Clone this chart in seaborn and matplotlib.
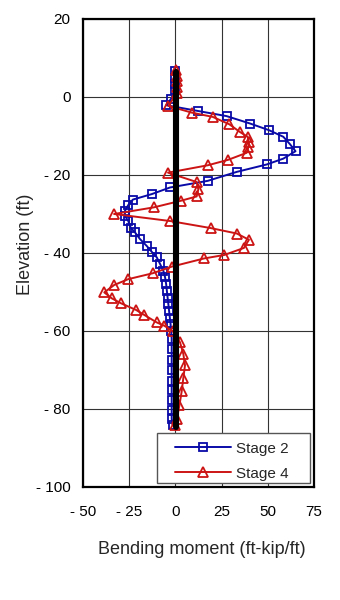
import numpy as np
import pandas as pd
import matplotlib
matplotlib.use("Agg")
import matplotlib.pyplot as plt
from matplotlib.patches import Rectangle
import seaborn as sns

# ---------------- data ----------------
stage2_moment = [0, 0, 0, 0, -2.5, -5.0, 12.4, 27.7, 40.4, 50.6, 58.4, 62.0, 65.0,
                 58.4, 49.4, 33.2, 17.5, -2.9, -12.8, -23.0, -25.5, -27.3, -27.3,
                 -25.5, -24.2, -21.9, -19.2, -15.5, -12.8, -10.1, -8.3, -6.5, -5.6,
                 -5.0, -4.6, -4.2, -3.8, -3.4, -3.0, -2.6, -2.3, -2.0, -2.0, -2.0,
                 -2.0, -2.0, -2.0, -2.0, -2.0, -2.0, -1.5]
stage2_elev = [6.6, 5.0, 3.4, 1.8, -0.6, -2.1, -3.6, -4.9, -6.8, -8.5, -10.2, -12.1,
               -13.9, -15.8, -17.3, -19.2, -21.5, -23.2, -24.9, -26.3, -27.7, -29.2,
               -30.5, -31.8, -33.5, -34.7, -36.4, -38.2, -39.7, -41.1, -42.8, -44.6,
               -46.2, -48.0, -49.8, -51.5, -53.2, -54.9, -56.6, -58.3, -60.0, -62.0,
               -64.6, -67.5, -70.1, -72.7, -75.2, -77.8, -80.3, -82.5, -84.0]

stage4_moment = [0.5, 0.8, 0.8, 0.8, 0.8, -3.8, 8.8, 20.2, 29.2, 35.0, 39.1, 39.8,
                 39.5, 38.6, 28.6, 17.6, -4.0, 11.5, 12.4, 11.5, 3.0, -11.7, -33.2,
                 -2.9, 19.0, 33.2, 39.8, 37.1, 26.5, 15.5, -2.0, -12.3, -25.5, -33.1,
                 -38.5, -34.5, -29.4, -21.3, -16.8, -10.1, -6.2, -1.5, 2.5, 4.3, 5.2,
                 4.3, 3.4, 2.2, 0.8, 0.0]
stage4_elev = [7.0, 5.5, 4.0, 2.5, 1.0, -2.3, -4.0, -5.1, -7.0, -9.0, -10.2, -11.6,
               -12.8, -14.3, -16.1, -17.5, -19.4, -21.8, -23.7, -25.5, -26.6, -28.3,
               -30.0, -31.8, -33.6, -35.0, -36.6, -38.7, -40.5, -41.4, -43.5, -45.2,
               -46.7, -48.2, -50.1, -51.6, -52.9, -54.6, -55.9, -57.8, -58.6, -60.0,
               -62.9, -65.9, -68.8, -72.0, -75.5, -79.0, -82.5, -84.0]

pile_moment = [0.5, 0.5]
pile_elev = [6.5, -84.5]

series_labels = ["Stage 2", "Stage 4"]
xticks = [-50, -25, 0, 25, 50, 75]
xtick_labels = ["- 50", "- 25", "0", "25", "50", "75"]
yticks = [20, 0, -20, -40, -60, -80, -100]
ytick_labels = ["20", "0", "- 20", "- 40", "- 60", "- 80", "- 100"]
x_title = "Bending moment (ft-kip/ft)"
y_title = "Elevation (ft)"

# ---------------- plot ----------------
sns.set_style("white")
plt.rcParams["font.family"] = ["Liberation Sans", "DejaVu Sans"]

fig = plt.figure(figsize=(3.4, 6.0), dpi=100)
ax = fig.add_axes([83 / 340, 1 - 487 / 600, 231 / 340, 468 / 600])

df2 = pd.DataFrame({"moment": stage2_moment, "elev": stage2_elev})
df4 = pd.DataFrame({"moment": stage4_moment, "elev": stage4_elev})
dfp = pd.DataFrame({"moment": pile_moment, "elev": pile_elev})

blue = "#0a0aa8"
red = "#cc1414"

sns.lineplot(data=df2, x="moment", y="elev", sort=False, estimator=None, ax=ax,
             color=blue, linewidth=1.4, marker="s", markersize=6.3,
             markerfacecolor="none", markeredgecolor=blue, markeredgewidth=1.3,
             label=series_labels[0], zorder=3)
sns.lineplot(data=df4, x="moment", y="elev", sort=False, estimator=None, ax=ax,
             color=red, linewidth=1.4, marker="^", markersize=7.3,
             markerfacecolor="none", markeredgecolor=red, markeredgewidth=1.3,
             label=series_labels[1], zorder=3)
sns.lineplot(data=dfp, x="moment", y="elev", sort=False, estimator=None, ax=ax,
             color="black", linewidth=4.4, zorder=4, legend=False)

ax.set_xlim(-50, 75)
ax.set_ylim(-100, 20)
ax.set_xticks(xticks)
ax.set_xticklabels(xtick_labels)
ax.set_yticks(yticks)
ax.set_yticklabels(ytick_labels)
ax.grid(True, color="#333333", linewidth=0.8)
ax.set_axisbelow(True)
for s in ax.spines.values():
    s.set_color("black")
    s.set_linewidth(1.6)
ax.tick_params(axis="both", direction="in", length=4, width=0.8, labelsize=11,
               colors="black")
ax.tick_params(axis="x", pad=13)
ax.tick_params(axis="y", pad=9)

ax.set_xlabel(x_title, fontsize=13)
ax.set_ylabel(y_title, fontsize=13)
ax.xaxis.set_label_coords(0.513, -0.115)
ax.yaxis.label.set_va("center")
ax.yaxis.set_label_coords(-0.251, 0.519)

# legend
ax.add_patch(Rectangle((0.320, 0.0085), 0.662, 0.107, transform=ax.transAxes,
                       facecolor="white", edgecolor="#555555", linewidth=1.0,
                       zorder=5))
leg = ax.legend(loc="upper left", bbox_to_anchor=(0.398, 0.097), frameon=False,
                fontsize=11, handlelength=3.7, handletextpad=0.3,
                labelspacing=0.72, borderpad=0, borderaxespad=0)
leg.set_zorder(6)

fig.savefig("out.png", dpi=100)
